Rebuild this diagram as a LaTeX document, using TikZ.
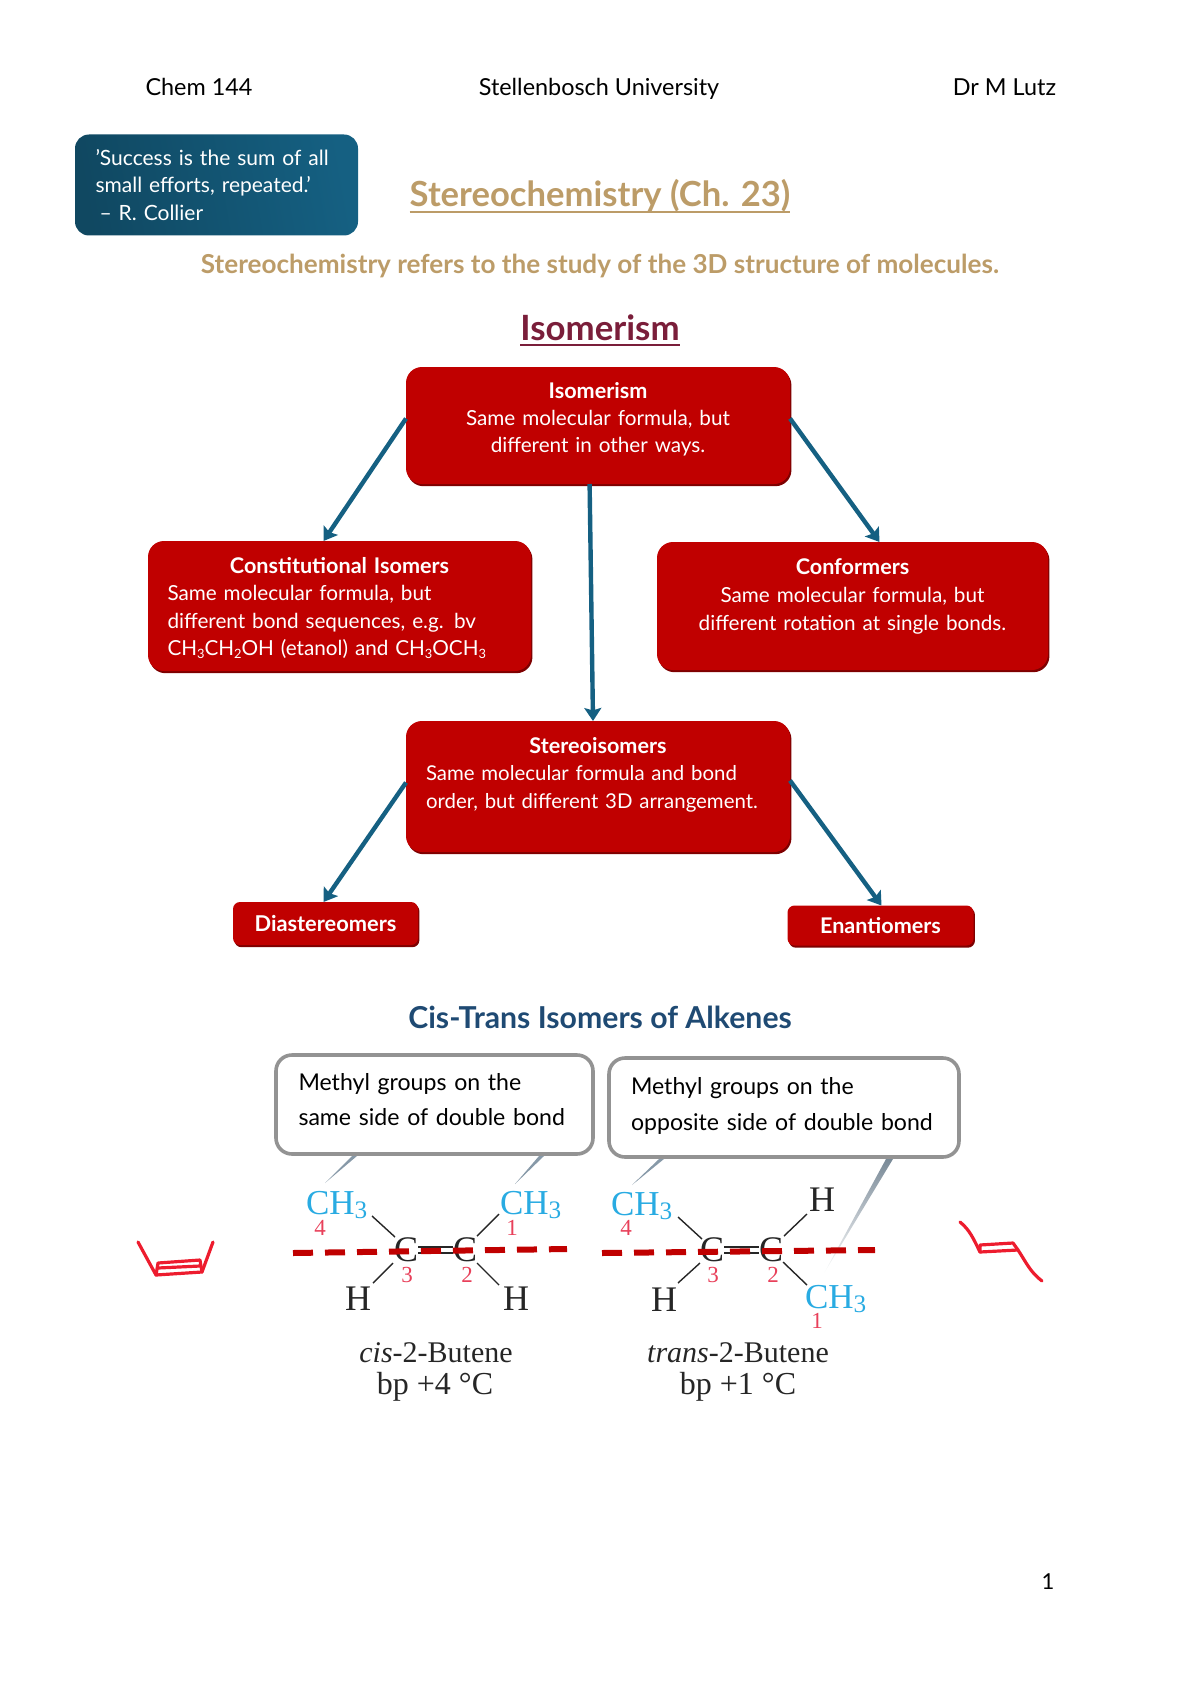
\documentclass[tikz,border=0pt]{standalone}
\usepackage{fontspec}
\setmainfont{Lato}
\newfontfamily\chemfont{Liberation Serif}
\usetikzlibrary{arrows.meta,shadows,calc}
\definecolor{goldc}{HTML}{BC9C68}
\definecolor{wine}{HTML}{7A1E3A}
\definecolor{navy}{HTML}{1F4A73}
\definecolor{boxred}{HTML}{C00000}
\definecolor{boxshade}{HTML}{7E0000}
\definecolor{arrowblue}{HTML}{156082}
\definecolor{ink}{HTML}{ED1C2E}
\definecolor{skyc}{HTML}{29ABE2}
\definecolor{numc}{HTML}{E8405A}
\definecolor{leadc}{HTML}{8799A8}
\newcommand{\fs}[2]{\fontsize{#1}{#2}\selectfont}
\newcommand{\sbt}[1]{\raisebox{-0.25ex}{\scalebox{.62}{#1}}}
\newcommand{\msb}[1]{\raisebox{-0.3ex}{\scalebox{.72}{#1}}}
\newcommand{\boxhead}[1]{{\bfseries\fs{10.8}{13.8}#1}}
\tikzset{
  x=0.5pt,y=0.5pt,
  plain/.style={inner sep=0pt,outer sep=0pt},
  redbox/.style={plain,fill=boxred,rounded corners=8pt,text=white,
    drop shadow={shadow xshift=0.7pt,shadow yshift=-1.1pt,fill=boxshade,opacity=1},
    font=\fs{10.35}{13.8}},
  smallred/.style={redbox,rounded corners=3.5pt,align=center},
  callout/.style={plain,draw=gray!85,fill=white,line width=1.8pt,rounded corners=8pt,align=left,font=\fs{11.55}{17.6},text=black},
  flow/.style={draw=arrowblue,line width=2.2pt,-{Stealth[length=6.5pt,width=8.5pt,inset=1.2pt]}},
  bond/.style={draw=black!85,line width=0.7pt},
  cutline/.style={draw=boxred,line width=3pt,dash pattern=on 10pt off 6pt},
  handink/.style={draw=ink,line width=1.6pt,line join=round,line cap=round},
  atom/.style={plain,font=\chemfont\fs{18}{20},text=black!85},
  methyl/.style={plain,font=\chemfont\fs{17.5}{20},text=skyc,anchor=base west},
  locant/.style={plain,font=\chemfont\fs{11.5}{13},text=numc},
  chemname/.style={plain,font=\chemfont\fs{15}{16},text=black!85,anchor=base},
  head/.style={plain,font=\fs{11.7}{13},anchor=base},
  leader/.style={fill=leadc,draw=none},
}
\begin{document}
\begin{tikzpicture}
\useasboundingbox (0,0) rectangle (1200,-1696);
% header
\node[head] (hchem) at (199,-96) {Chem 144};
\node[head] (huni) at (599,-96) {Stellenbosch University};
\node[head,anchor=base east] (hdr) at (1056,-96) {Dr M Lutz};
\node[plain,font=\fs{11}{13},anchor=base] (pg) at (1048,-1589) {1};
% quote
\node[plain,anchor=north west,minimum width=141.5pt,minimum height=50.5pt,rounded corners=7pt,
  left color=arrowblue!75!black,right color=arrowblue,shading angle=100,text=white,
  font=\fs{10.5}{13.8},align=left,text width=121pt] (quote) at (75,-134.5)
  {'Success is the sum of all\\small efforts, repeated.'\\\hspace*{2pt}– R. Collier};
% titles
\node[plain,anchor=base,font=\bfseries\fs{17.3}{18},text=goldc] (title) at (600,-207) {Stereochemistry (Ch. 23)};
\draw[goldc,line width=1.4pt] (title.base west |- 0,-212) -- (title.base east |- 0,-212);
\node[plain,anchor=base,font=\bfseries\fs{13.05}{14},text=goldc] (sub) at (600,-273) {Stereochemistry refers to the study of the 3D structure of molecules.};
\node[plain,anchor=base,font=\bfseries\fs{17.4}{18},text=wine] (ish) at (600,-340) {Isomerism};
\draw[wine,line width=1.4pt] (ish.base west |- 0,-345) -- (ish.base east |- 0,-345);
% flow boxes
\node[redbox,anchor=north west,minimum width=192pt,minimum height=58.5pt,align=center,text width=180pt,font=\fs{10.35}{13.4}] (iso) at (406,-367)
  {\boxhead{Isomerism}\\Same molecular formula, but\\different in other ways.\rule[-8pt]{0pt}{0pt}};
\node[redbox,anchor=north west,minimum width=191.5pt,minimum height=65pt,align=left,text width=172pt] (con) at (148,-541)
  {\makebox[172pt][c]{\rule{0pt}{10pt}\boxhead{Constitutional Isomers}}\\Same molecular formula, but\\different bond sequences, e.g. bv\\CH\sbt{3}CH\sbt{2}OH (etanol) and CH\sbt{3}OCH\sbt{3}};
\node[redbox,anchor=north west,minimum width=195.5pt,minimum height=64pt,align=center,text width=180pt] (conf) at (657,-542)
  {\boxhead{Conformers}\\Same molecular formula, but\\different rotation at single bonds.\rule[-11.5pt]{0pt}{0pt}};
\node[redbox,anchor=north west,minimum width=192pt,minimum height=65.5pt,align=left,text width=172pt,font=\fs{10.2}{13.8}] (ster) at (406,-721)
  {\makebox[172pt][c]{\boxhead{Stereoisomers}}\\Same molecular formula and bond\\order, but different 3D arrangement.\\\ };
\node[smallred,anchor=north west,minimum width=92.5pt,minimum height=21.5pt,font=\bfseries\fs{10.9}{13}] (dia) at (233,-902) {Diastereomers};
\node[smallred,anchor=north west,minimum width=93pt,minimum height=20pt,font=\bfseries\fs{10.8}{13}] (ena) at (787.5,-905.5) {Enantiomers};
% flow arrows
\draw[flow] ([yshift=3.5pt]iso.west) -- ([xshift=-8pt]con.north);
\draw[flow] ([yshift=3.5pt]iso.east) -- ([xshift=13.5pt]conf.north);
\draw[flow] ([xshift=-4.2pt]iso.south) -- ([xshift=-2.5pt]ster.north);
\draw[flow] ([yshift=2pt]ster.west) -- ([xshift=-1pt]dia.north);
\draw[flow] ([yshift=3pt]ster.east) -- ([xshift=0.5pt]ena.north);
% section title
\node[plain,anchor=base,font=\bfseries\fs{15.1}{16},text=navy] (cth) at (600,-1028) {Cis-Trans Isomers of Alkenes};
% callouts
\node[callout,anchor=north west,minimum width=158.5pt,minimum height=49.5pt,text width=136pt] (cisbox) at (276,-1055)
  {Methyl groups on the\\same side of double bond\rule[-5pt]{0pt}{0pt}};
\node[callout,anchor=north west,minimum width=175pt,minimum height=49.5pt,text width=153pt] (trbox) at (609,-1058)
  {Methyl groups on the\\opposite side of double bond\rule[-3.5pt]{0pt}{0pt}};
% leaders
\coordinate (l1a) at (357,-1156); \coordinate (l1b) at (352,-1156); \coordinate (l1c) at (325,-1183);
\coordinate (l2a) at (544,-1156); \coordinate (l2b) at (539,-1156); \coordinate (l2c) at (515,-1184);
\coordinate (l3a) at (664,-1159); \coordinate (l3b) at (659,-1159); \coordinate (l3c) at (632,-1185);
\coordinate (l4a) at (893,-1159); \coordinate (l4b) at (886,-1159); \coordinate (l4c) at (823,-1275);
\fill[leader] (l1a) -- (l1b) -- (l1c) -- cycle;
\fill[leader] (l2a) -- (l2b) -- (l2c) -- cycle;
\fill[leader] (l3a) -- (l3b) -- (l3c) -- cycle;
\shade[top color=leadc!90!black,bottom color=white] (l4a) -- (l4b) -- (l4c) -- cycle;
% cis molecule
\node[methyl] (cisA) at (306,-1214) {CH\msb{3}};
\node[methyl] (cisB) at (500,-1214) {CH\msb{3}};
\node[atom] (cisC3) at (406,-1250) {C};
\node[atom] (cisC2) at (465,-1250) {C};
\node[atom] (cisH1) at (358,-1299) {H};
\node[atom] (cisH2) at (516,-1299) {H};
\node[locant] (cisn4) at (320,-1228) {4};
\node[locant] (cisn1) at (512,-1228) {1};
\node[locant] (cisn3) at (407,-1275) {3};
\node[locant] (cisn2) at (467,-1275) {2};
\coordinate (ca1) at (372,-1216); \coordinate (ca2) at (395,-1237);
\coordinate (cb1) at (499,-1214); \coordinate (cb2) at (477,-1236);
\coordinate (cc1) at (373,-1283); \coordinate (cc2) at (393,-1263);
\coordinate (cd1) at (499,-1285); \coordinate (cd2) at (477,-1263);
\draw[bond] (ca1) -- (ca2);
\draw[bond] (cb1) -- (cb2);
\draw[bond] (cc1) -- (cc2);
\draw[bond] (cd1) -- (cd2);
\draw[bond] ([yshift=1.5pt,xshift=6pt]cisC3.center) -- ([yshift=1.5pt,xshift=-6pt]cisC2.center);
\draw[bond] ([yshift=-1.5pt,xshift=6pt]cisC3.center) -- ([yshift=-1.5pt,xshift=-6pt]cisC2.center);
\node[chemname] (cisname) at (436,-1362) {\textit{cis}-2-Butene};
\node[chemname,font=\chemfont\fs{16}{17}] (cisbp) at (435,-1394) {bp +4 °C};
% trans molecule
\node[methyl] (trA) at (611,-1215) {CH\msb{3}};
\node[methyl] (trB) at (805,-1308) {CH\msb{3}};
\node[atom] (trC3) at (712,-1250) {C};
\node[atom] (trC2) at (771,-1250) {C};
\node[atom] (trH1) at (664,-1300) {H};
\node[atom] (trH2) at (822,-1200) {H};
\node[locant] (trn4) at (626,-1228) {4};
\node[locant] (trn1) at (817,-1321) {1};
\node[locant] (trn3) at (713,-1275) {3};
\node[locant] (trn2) at (773,-1275) {2};
\coordinate (ta1) at (678,-1217); \coordinate (ta2) at (702,-1239);
\coordinate (tb1) at (807,-1214); \coordinate (tb2) at (784,-1236);
\coordinate (tc1) at (678,-1283); \coordinate (tc2) at (700,-1263);
\coordinate (td1) at (807,-1285); \coordinate (td2) at (783,-1262);
\draw[bond] (ta1) -- (ta2);
\draw[bond] (tb1) -- (tb2);
\draw[bond] (tc1) -- (tc2);
\draw[bond] (td1) -- (td2);
\draw[bond] ([yshift=1.5pt,xshift=6pt]trC3.center) -- ([yshift=1.5pt,xshift=-6pt]trC2.center);
\draw[bond] ([yshift=-1.5pt,xshift=6pt]trC3.center) -- ([yshift=-1.5pt,xshift=-6pt]trC2.center);
\node[chemname] (trname) at (738,-1362) {\textit{trans}-2-Butene};
\node[chemname,font=\chemfont\fs{16}{17}] (trbp) at (738,-1394) {bp +1 °C};
% dashed lines
\draw[cutline] (293,-1253) -- (567,-1249);
\draw[cutline] (602,-1253) -- (875,-1250);
% hand drawings
\draw[handink] (138,-1242) -- (156,-1275) -- (202,-1272) -- (213,-1242);
\draw[handink] (156,-1275) -- (158,-1263) -- (200,-1260) -- (202,-1272);
\draw[handink] (158,-1268) -- (200,-1266);
\draw[handink] (960,-1222) .. controls (970,-1230) and (974,-1240) .. (980,-1252) -- (1018,-1250) .. controls (1026,-1262) and (1030,-1272) .. (1042,-1281);
\draw[handink] (980,-1252) -- (980,-1245) -- (1013,-1243) -- (1018,-1250);
\end{tikzpicture}
\end{document}
